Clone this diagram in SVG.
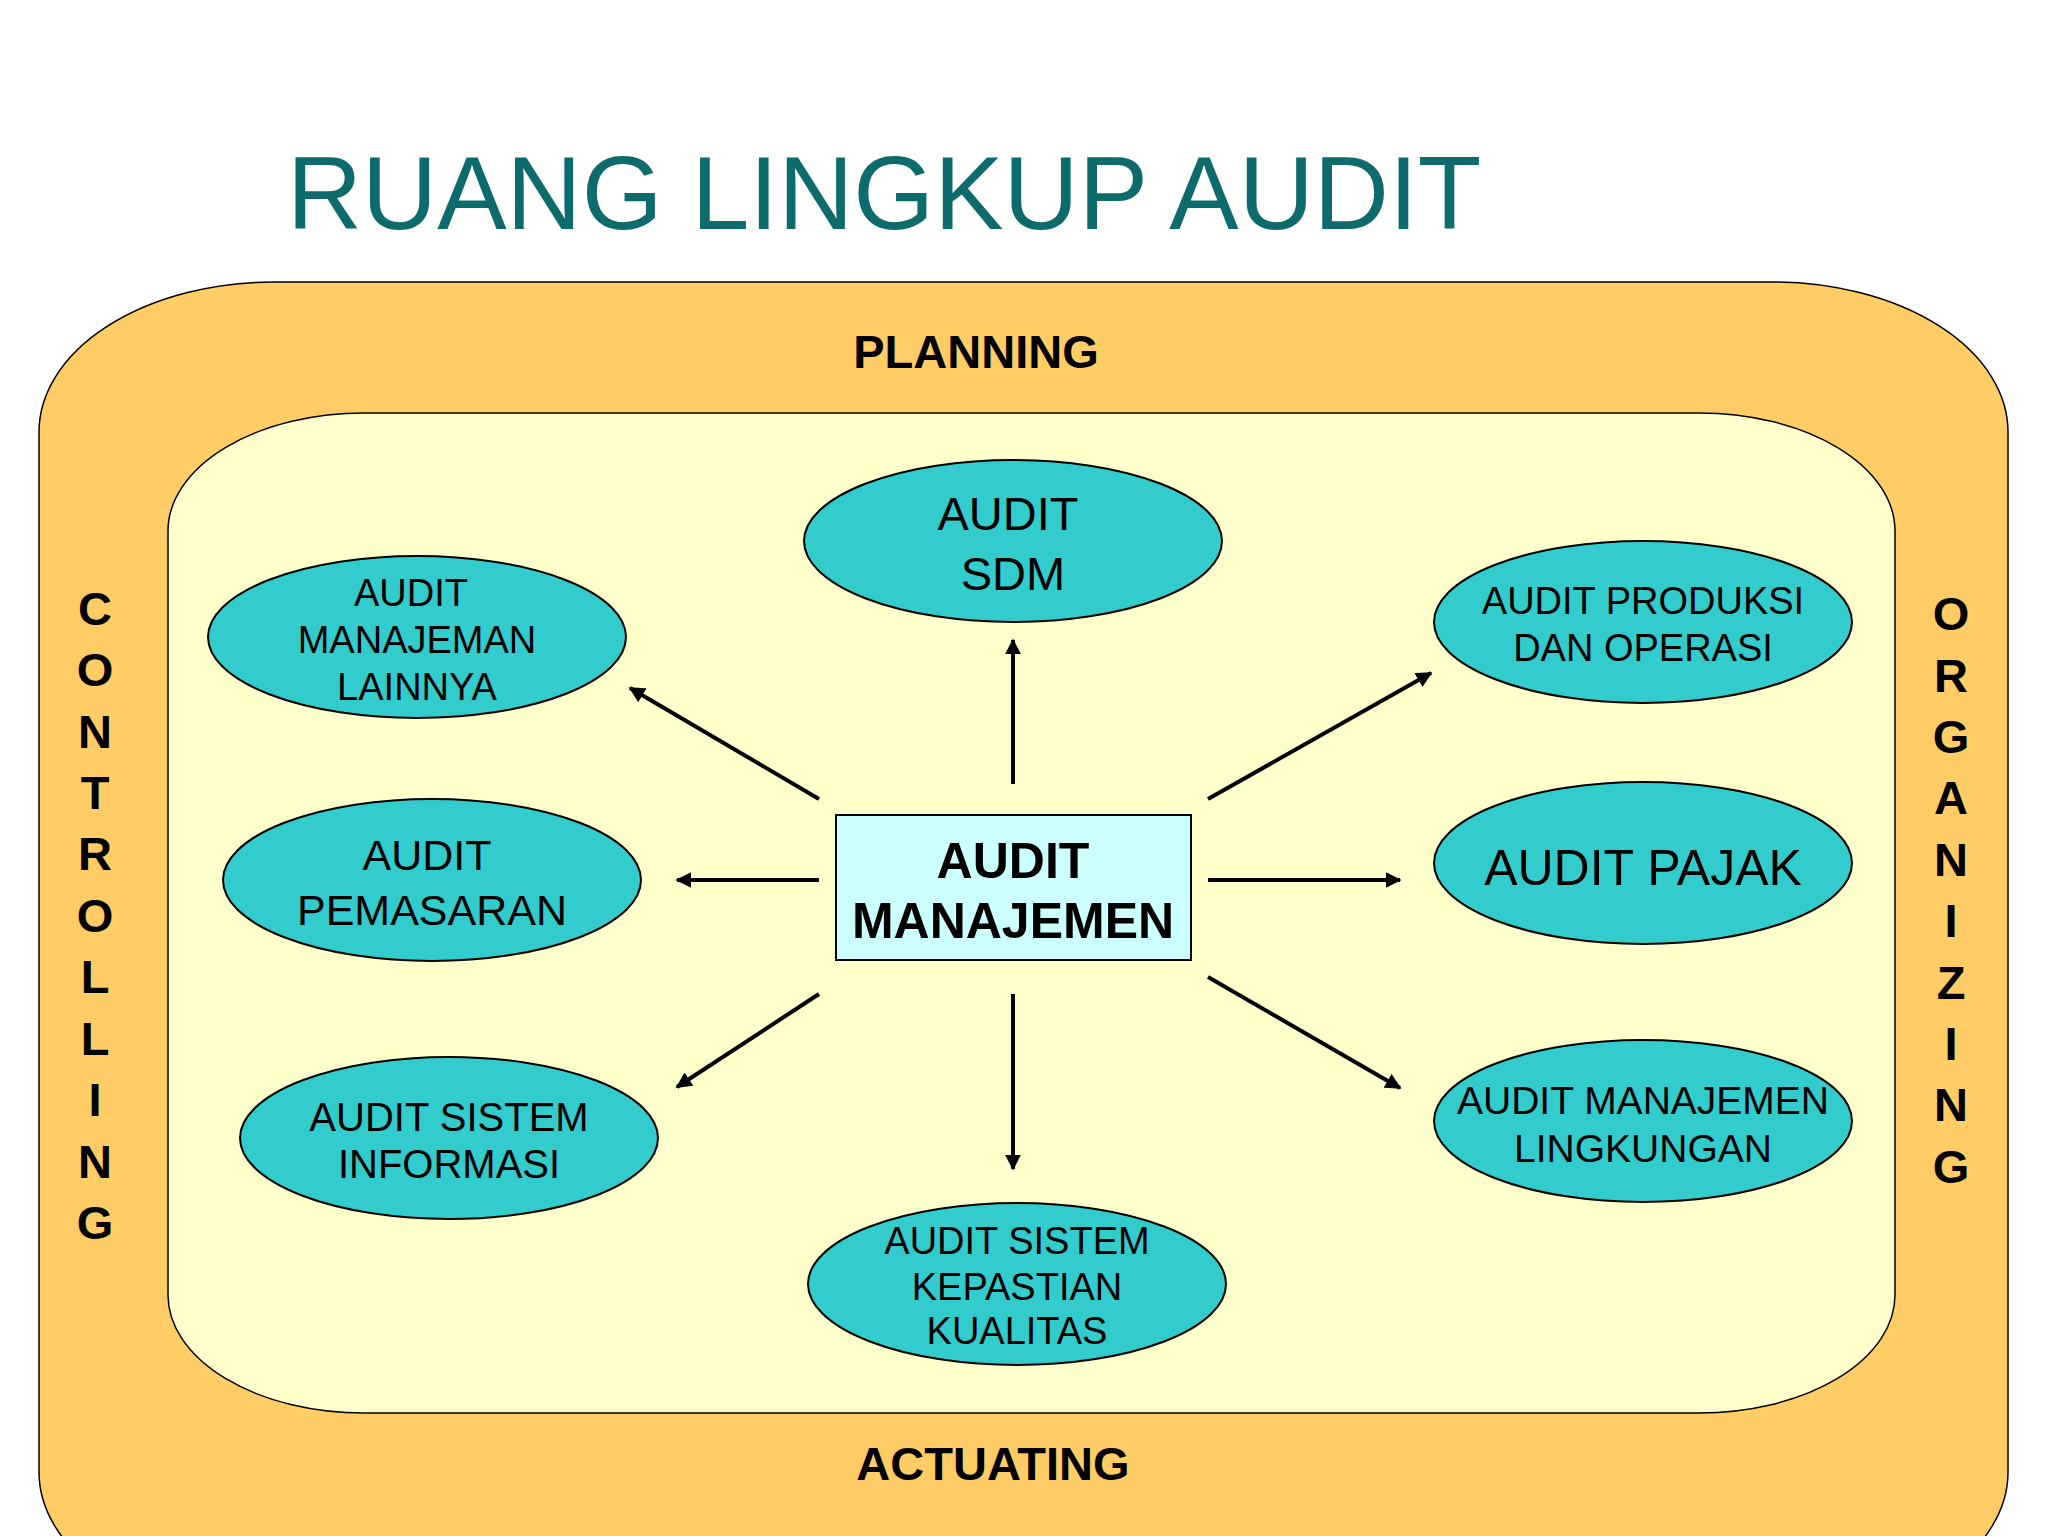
<svg xmlns="http://www.w3.org/2000/svg" width="2048" height="1536" viewBox="0 0 2048 1536">
<style>
text{font-family:"Liberation Sans",Arial,sans-serif;text-anchor:middle;fill:#000}
.b{font-weight:bold}
.e{fill:#33CCCC;stroke:#000;stroke-width:2}
.a{stroke:#000;stroke-width:4;fill:none;marker-end:url(#ah)}
</style>
<defs><marker id="ah" viewBox="0 0 10 10" refX="9" refY="5" markerWidth="4" markerHeight="4" orient="auto"><path d="M0,0L10,5L0,10z" fill="#000"/></marker></defs>
<rect width="2048" height="1536" fill="#fff"/>
<text x="287" y="229" style="text-anchor:start;font-size:104px;fill:#0E6B6B">RUANG LINGKUP AUDIT</text>
<g id="outer"><rect x="39" y="282" width="1969" height="1340" rx="235" ry="150" fill="#FFCC66" stroke="#000" stroke-width="1.5"/></g>
<g id="inner"><rect x="168" y="413" width="1727" height="1000" rx="196" ry="118" fill="#FFFFCC" stroke="#000" stroke-width="1.5"/></g>
<g id="labels" class="b" font-size="47">
<text x="976" y="368" class="b" style="font-size:47px">PLANNING</text>
<text x="993" y="1480" class="b" style="font-size:47px">ACTUATING</text>
<g style="font-size:47px;font-weight:bold">
<text x="95" y="625">C</text><text x="95" y="686">O</text><text x="95" y="748">N</text><text x="95" y="809">T</text><text x="95" y="870">R</text><text x="95" y="932">O</text><text x="95" y="993">L</text><text x="95" y="1055">L</text><text x="95" y="1116">I</text><text x="95" y="1178">N</text><text x="95" y="1239">G</text>
<text x="1951" y="630">O</text><text x="1951" y="692">R</text><text x="1951" y="753">G</text><text x="1951" y="814">A</text><text x="1951" y="876">N</text><text x="1951" y="937">I</text><text x="1951" y="999">Z</text><text x="1951" y="1060">I</text><text x="1951" y="1121">N</text><text x="1951" y="1183">G</text>
</g></g>
<g id="connectors">
<line class="a" x1="1013" y1="784" x2="1013" y2="640"/>
<line class="a" x1="819" y1="799" x2="630" y2="688"/>
<line class="a" x1="819" y1="880" x2="677" y2="880"/>
<line class="a" x1="819" y1="994" x2="677" y2="1087"/>
<line class="a" x1="1013" y1="994" x2="1013" y2="1169"/>
<line class="a" x1="1208" y1="799" x2="1431" y2="673"/>
<line class="a" x1="1208" y1="880" x2="1400" y2="880"/>
<line class="a" x1="1208" y1="977" x2="1400" y2="1088"/>
</g>
<g id="center"><rect x="836" y="815" width="355" height="145" fill="#CCFFFF" stroke="#000" stroke-width="2"/>
<text x="1013" y="878" class="b" style="font-size:50px">AUDIT</text><text x="1013" y="938" class="b" style="font-size:50px">MANAJEMEN</text></g>
<g id="sdm"><ellipse class="e" cx="1013" cy="541" rx="209" ry="81"/><text x="1008" y="530" font-size="47">AUDIT</text><text x="1013" y="590" font-size="47">SDM</text></g>
<g id="lainnya"><ellipse class="e" cx="417" cy="637" rx="209" ry="81"/><text x="411" y="606" font-size="38">AUDIT</text><text x="417" y="653" font-size="38">MANAJEMAN</text><text x="417" y="700" font-size="38">LAINNYA</text></g>
<g id="produksi"><ellipse class="e" cx="1643" cy="622" rx="209" ry="81"/><text x="1643" y="614" font-size="38">AUDIT PRODUKSI</text><text x="1643" y="661" font-size="38">DAN OPERASI</text></g>
<g id="pemasaran"><ellipse class="e" cx="432" cy="880" rx="209" ry="81"/><text x="427" y="870" font-size="43">AUDIT</text><text x="432" y="925" font-size="43">PEMASARAN</text></g>
<g id="pajak"><ellipse class="e" cx="1643" cy="863" rx="209" ry="81"/><text x="1643" y="885" font-size="50">AUDIT PAJAK</text></g>
<g id="sisteminfo"><ellipse class="e" cx="449" cy="1138" rx="209" ry="81"/><text x="449" y="1131" font-size="40">AUDIT SISTEM</text><text x="449" y="1178" font-size="40">INFORMASI</text></g>
<g id="lingkungan"><ellipse class="e" cx="1643" cy="1121" rx="209" ry="81"/><text x="1643" y="1114" font-size="39">AUDIT MANAJEMEN</text><text x="1643" y="1162" font-size="39">LINGKUNGAN</text></g>
<g id="kepastian"><ellipse class="e" cx="1017" cy="1284" rx="209" ry="81"/><text x="1017" y="1254" font-size="38">AUDIT SISTEM</text><text x="1017" y="1300" font-size="38">KEPASTIAN</text><text x="1017" y="1344" font-size="38">KUALITAS</text></g>
</svg>
